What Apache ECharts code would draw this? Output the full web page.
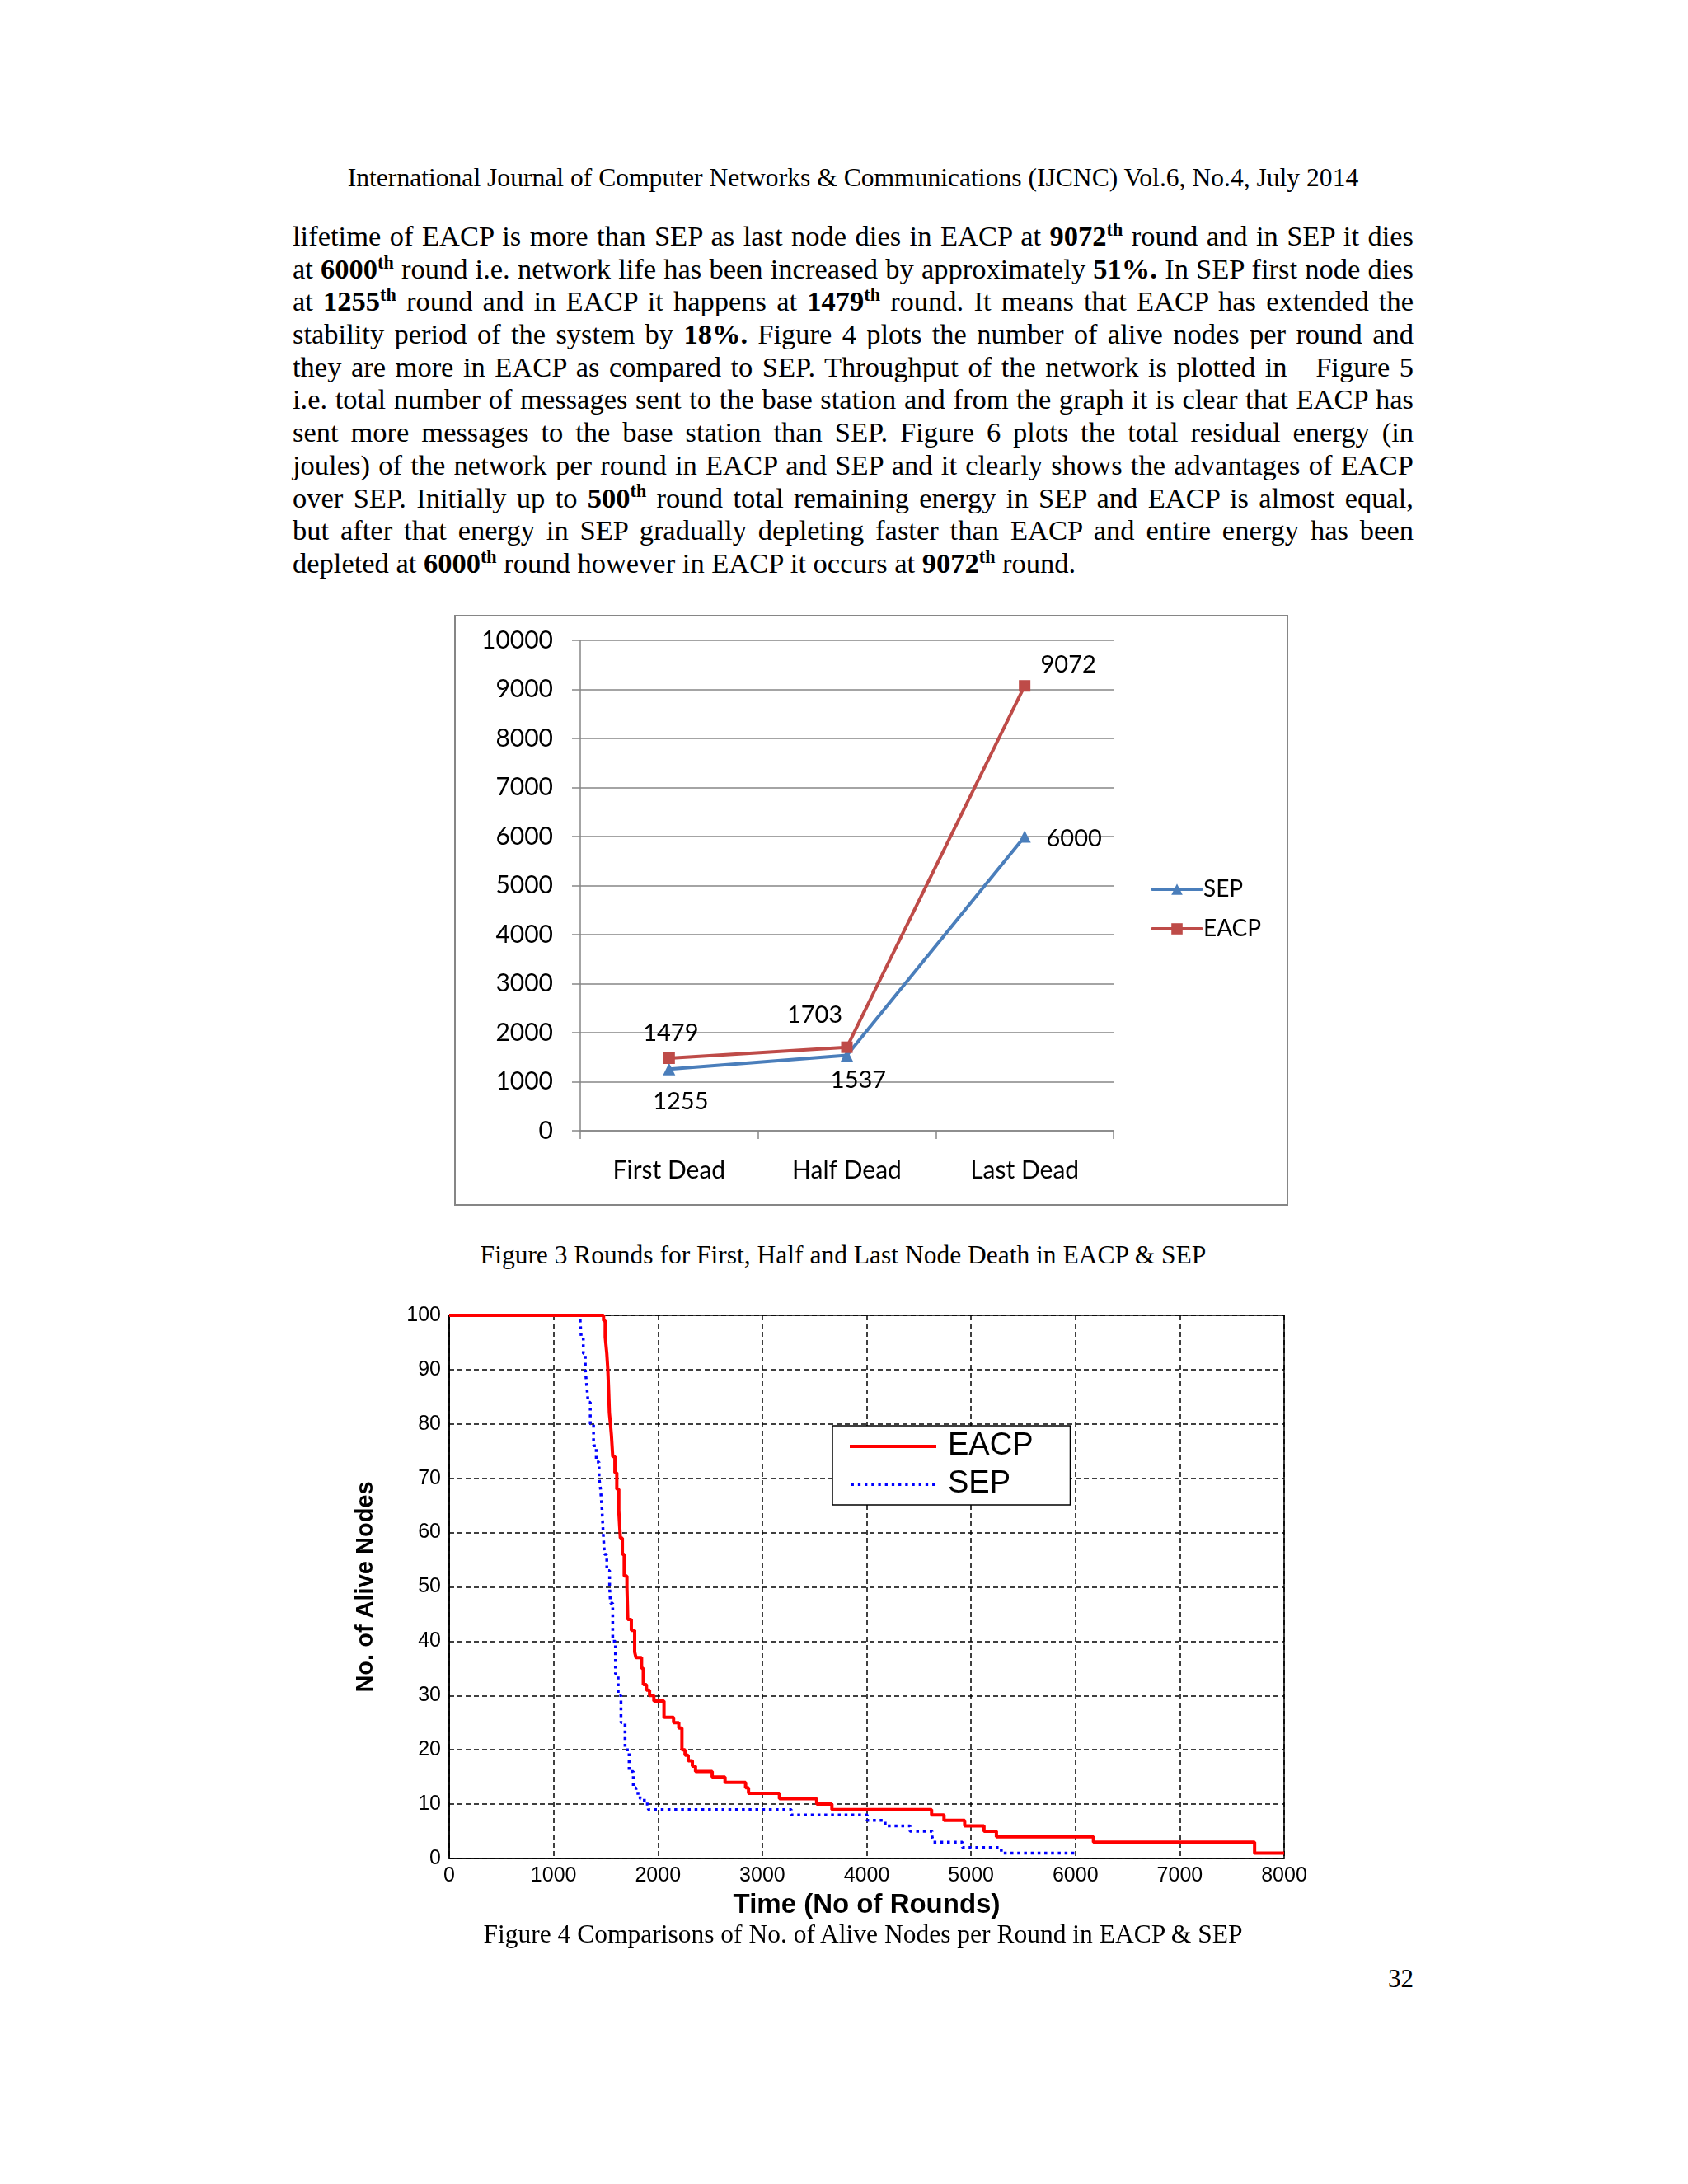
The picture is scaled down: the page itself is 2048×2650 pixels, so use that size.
<!DOCTYPE html>
<html>
<head>
<meta charset="utf-8">
<script src="https://cdn.jsdelivr.net/npm/echarts@6/dist/echarts.min.js"></script>
<style>
  html, body { margin: 0; padding: 0; background: #fff; }
  #page { position: relative; width: 2048px; height: 2650px; background: #fff; font-family: "Liberation Serif", "Times New Roman", serif; color: #000; }
  .header { position: absolute; left: 0; width: 2070px; top: 196px; text-align: center; font-size: 31.6px; line-height: 40px; }
  #text { position: absolute; left: 355px; top: 267px; width: 1360px; font-size: 34.5px; }
  .line { height: 39.7px; line-height: 39.7px; text-align: justify; text-align-last: justify; }
  .line.last { text-align-last: left; }
  sup { font-size: 0.64em; line-height: 0; position: relative; top: -0.55em; vertical-align: baseline; }
  .caption { position: absolute; left: 0; text-align: center; font-size: 31.5px; line-height: 40px; }
  .pageno { position: absolute; left: 1615px; width: 100px; top: 2381px; text-align: right; font-size: 31px; line-height: 40px; }
  #chart1 { position: absolute; left: 551px; top: 746px; width: 1008px; height: 713px; border: 2px solid #868686; }
  #chart2 { position: absolute; left: 420px; top: 1580px; width: 1180px; height: 760px; }
</style>
</head>
<body>
<div id="page">
  <div class="header">International Journal of Computer Networks &amp; Communications (IJCNC) Vol.6, No.4, July 2014</div>
  <div id="text">
    <div class="line">lifetime of EACP is more than SEP as last node dies in EACP at <b>9072<sup>th</sup></b> round and in SEP it dies</div>
    <div class="line">at <b>6000<sup>th</sup></b> round i.e. network life has been increased by approximately <b>51%.</b> In SEP first node dies</div>
    <div class="line">at <b>1255<sup>th</sup></b> round and in EACP it happens at <b>1479<sup>th</sup></b> round. It means that EACP has extended the</div>
    <div class="line">stability period of the system by <b>18%.</b> Figure 4 plots the number of alive nodes per round and</div>
    <div class="line">they are more in EACP as compared to SEP. Throughput of the network is plotted in &nbsp;&nbsp;Figure 5</div>
    <div class="line">i.e. total number of messages sent to the base station and from the graph it is clear that EACP has</div>
    <div class="line">sent more messages to the base station than SEP. Figure 6 plots the total residual energy (in</div>
    <div class="line">joules) of the network per round in EACP and SEP and it clearly shows the advantages of EACP</div>
    <div class="line">over SEP. Initially up to <b>500<sup>th</sup></b> round total remaining energy in SEP and EACP is almost equal,</div>
    <div class="line">but after that energy in SEP gradually depleting faster than EACP and entire energy has been</div>
    <div class="line last">depleted at <b>6000<sup>th</sup></b> round however in EACP it occurs at <b>9072<sup>th</sup></b> round.</div>
  </div>
  <div id="chart1"></div>
  <div class="caption" style="top:1503px; width:2046px;">Figure 3 Rounds for First, Half and Last Node Death in EACP &amp; SEP</div>
  <div id="chart2"></div>
  <div class="caption" style="top:2327px; width:2094px;">Figure 4 Comparisons of No. of Alive Nodes per Round in EACP &amp; SEP</div>
  <div class="pageno">32</div>
</div>
<script>
// Figure 3: rounds at which first / half / last node dies
const categories = ["First Dead", "Half Dead", "Last Dead"];
const sepRounds = [1255, 1537, 6000];
const eacpRounds = [1479, 1703, 9072];

// Figure 4: alive nodes, as [round where the count changes, new count]
const eacpAlive = [
  [0, 100], [1479, 99], [1495, 96], [1510, 93], [1520, 90], [1528, 86], [1535, 82],
  [1545, 80], [1554, 78], [1567, 74], [1588, 71], [1606, 68], [1625, 64], [1640, 59],
  [1659, 56], [1677, 52], [1703, 50], [1711, 44], [1745, 42], [1777, 38], [1790, 37],
  [1843, 35], [1860, 32], [1890, 31], [1920, 30], [1961, 29], [2058, 26], [2150, 25],
  [2200, 24], [2230, 20], [2260, 19], [2290, 18], [2330, 17], [2360, 16], [2520, 15],
  [2643, 14], [2840, 13], [2868, 12], [3164, 11], [3521, 10], [3667, 9], [4622, 8],
  [4741, 7], [4939, 6], [5124, 5], [5243, 4], [6173, 3], [7717, 1], [8000, 1]
];
const sepAlive = [
  [0, 100], [1255, 99], [1265, 96], [1285, 93], [1304, 90], [1318, 87], [1331, 84],
  [1352, 80], [1383, 76], [1409, 73], [1436, 70], [1450, 68], [1462, 65], [1475, 60],
  [1488, 56], [1510, 53], [1537, 50], [1545, 47], [1567, 40], [1593, 34], [1619, 30],
  [1646, 25], [1685, 20], [1724, 16], [1764, 13], [1790, 12], [1829, 11], [1870, 10],
  [1908, 9], [3278, 8], [4005, 7], [4177, 6], [4415, 5], [4627, 4], [4640, 3],
  [4917, 2], [5290, 1], [6000, 1]
];

const sepLabelOffsets = [[14, 39], [14, 30], [60, 3]];
const eacpLabelOffsets = [[2, -30], [-39, -39], [53, -26]];

const plain = v => String(v);

// chart 2 legend keys: solid bar and a row of square dots
const solidIcon = "path://M0,0 h105 v4 h-105 z";
let dotIcon = "path://";
for (let x = 0; x < 102; x += 8.2) {
  dotIcon += `M${x.toFixed(1)},0 h3.3 v4 h-3.3 z `;
}

const excelFont = "Lato, 'Open Sans', sans-serif";
const thickKey = { width: 4, cap: "round" };
const chart1 = echarts.init(document.querySelector("#chart1"));
chart1.setOption({
  animation: false,
  backgroundColor: "#fff",
  grid: { left: 151, right: 210, top: 29, bottom: 89 },
  legend: {
    orient: "vertical",
    left: 843,
    top: 317,
    padding: 0,
    itemGap: 20,
    itemWidth: 60,
    itemHeight: 17,
    lineStyle: thickKey,
    data: [{ name: "SEP", lineStyle: thickKey }, { name: "EACP", lineStyle: thickKey }],
    textStyle: { fontFamily: excelFont, fontSize: 28, color: "#000", padding: [0, 0, 0, -3] }
  },
  xAxis: {
    type: "category",
    data: categories,
    axisLine: { lineStyle: { color: "#868686", width: 1.5 } },
    axisTick: { show: true, length: 10, lineStyle: { color: "#868686", width: 1.5 } },
    axisLabel: { fontFamily: excelFont, fontSize: 30, color: "#000", margin: 33 }
  },
  yAxis: {
    type: "value",
    min: 0,
    max: 10000,
    interval: 1000,
    axisLine: { show: true, lineStyle: { color: "#868686", width: 1.5 } },
    axisTick: { show: true, length: 10, lineStyle: { color: "#868686", width: 1.5 } },
    axisLabel: { fontFamily: excelFont, fontSize: 30, color: "#000", margin: 33, formatter: plain },
    splitLine: { lineStyle: { color: "#868686", width: 1.5 } }
  },
  series: [
    {
      name: "SEP",
      type: "line",
      symbol: "triangle",
      symbolSize: 15,
      lineStyle: { color: "#4a7ebb", width: 4 },
      itemStyle: { color: "#4a7ebb" },
      data: sepRounds.map((v, i) => ({
        value: v,
        label: { show: true, position: "inside", offset: sepLabelOffsets[i] }
      })),
      label: { fontFamily: excelFont, fontSize: 29, color: "#000" }
    },
    {
      name: "EACP",
      type: "line",
      symbol: "rect",
      symbolSize: 14,
      lineStyle: { color: "#be4b48", width: 4 },
      itemStyle: { color: "#be4b48" },
      data: eacpRounds.map((v, i) => ({
        value: v,
        label: { show: true, position: "inside", offset: eacpLabelOffsets[i] }
      })),
      label: { fontFamily: excelFont, fontSize: 29, color: "#000" }
    }
  ]
});

const matFont = "'Liberation Sans', Arial, sans-serif";
const dashed = { color: "#000", width: 1.5, type: [6, 4] };
const chart2 = echarts.init(document.querySelector("#chart2"));
chart2.setOption({
  animation: false,
  backgroundColor: "#fff",
  grid: { left: 125, right: 42, top: 16, bottom: 85, show: true, borderColor: "#000", borderWidth: 1.5 },
  legend: {
    orient: "vertical",
    left: 590,
    top: 150,
    padding: [6, 45, 6, 21],
    itemGap: 8,
    itemWidth: 105,
    itemHeight: 4,
    backgroundColor: "#fff",
    borderColor: "#000",
    borderWidth: 1.5,
    data: [{ name: "EACP", icon: solidIcon }, { name: "SEP", icon: dotIcon }],
    textStyle: { fontFamily: matFont, fontSize: 38, color: "#000", padding: [0, 0, 0, 9] }
  },
  xAxis: {
    type: "value",
    min: 0,
    max: 8000,
    interval: 1000,
    name: "Time (No of Rounds)",
    nameLocation: "middle",
    nameGap: 40,
    nameTextStyle: { fontFamily: matFont, fontSize: 33, fontWeight: "bold", color: "#000" },
    axisLine: { lineStyle: { color: "#000", width: 1.5 } },
    axisTick: { show: false },
    axisLabel: { fontFamily: matFont, fontSize: 25, color: "#000", margin: 9, formatter: plain },
    splitLine: { show: true, lineStyle: dashed }
  },
  yAxis: {
    type: "value",
    min: 0,
    max: 100,
    interval: 10,
    name: "No. of Alive Nodes",
    nameLocation: "middle",
    nameGap: 87,
    nameTextStyle: { fontFamily: matFont, fontSize: 29, fontWeight: "bold", color: "#000" },
    axisLine: { show: true, lineStyle: { color: "#000", width: 1.5 } },
    axisTick: { show: false },
    axisLabel: { fontFamily: matFont, fontSize: 25, color: "#000", margin: 10 },
    splitLine: { show: true, lineStyle: dashed }
  },
  series: [
    {
      name: "SEP",
      type: "line",
      step: "end",
      symbol: "none",
      lineStyle: { color: "#0000ff", width: 3.5, type: [3.5, 4.7] },
      itemStyle: { color: "#0000ff" },
      data: sepAlive
    },
    {
      name: "EACP",
      type: "line",
      step: "end",
      symbol: "none",
      lineStyle: { color: "#ff0000", width: 4 },
      itemStyle: { color: "#ff0000" },
      data: eacpAlive
    }
  ]
});
</script>
</body>
</html>
